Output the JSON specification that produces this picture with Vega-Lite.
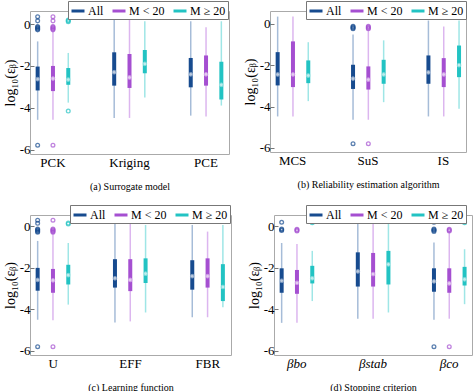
{
  "$schema": "https://vega.github.io/schema/vega-lite/v6.json",
  "padding": {"left": 2, "top": 0, "right": 0, "bottom": 0},
  "background": "white",
  "config": {
    "font": "Liberation Serif",
    "view": {"stroke": "#aaa", "strokeWidth": 1},
    "axisY": {"grid": false, "domain": false, "tickSize": -4, "tickColor": "#777", "labelPadding": 4, "labelFont": "Liberation Serif", "labelFontSize": 13, "labelColor": "black", "titleFont": "Liberation Serif", "titleFontSize": 14, "titleFontWeight": "normal", "titleColor": "black", "titlePadding": 2},
    "axisX": {"grid": false, "domain": false, "ticks": false, "labelAngle": 0, "labelFont": "Liberation Serif", "labelFontSize": 13, "labelColor": "black", "labelPadding": 2, "titleFont": "Liberation Serif", "titleFontSize": 10, "titleFontWeight": "normal", "titleColor": "black", "titlePadding": 12},
    "legend": {"orient": "none", "direction": "horizontal", "symbolType": "stroke", "symbolStrokeWidth": 3, "symbolSize": 169, "labelFont": "Liberation Serif", "labelFontSize": 12, "labelFontWeight": "normal", "labelColor": "black", "strokeColor": "#777", "fillColor": "white", "padding": 2, "columnPadding": 2, "labelOffset": 2}
  },
  "datasets": {
    "boxes": [
      {"panel": "a", "cat": "PCK", "grp": "All", "lo": -4.57, "q1": -3.17, "med": -2.63, "q3": -2.03, "hi": -0.83},
      {"panel": "a", "cat": "PCK", "grp": "M < 20", "lo": -4.57, "q1": -3.2, "med": -2.6, "q3": -2.0, "hi": -0.25},
      {"panel": "a", "cat": "PCK", "grp": "M ≥ 20", "lo": -3.75, "q1": -2.9, "med": -2.65, "q3": -2.1, "hi": -1.38},
      {"panel": "a", "cat": "Kriging", "grp": "All", "lo": -4.48, "q1": -2.94, "med": -2.3, "q3": -1.35, "hi": 0.48},
      {"panel": "a", "cat": "Kriging", "grp": "M < 20", "lo": -4.48, "q1": -3.05, "med": -2.55, "q3": -1.43, "hi": 0.3},
      {"panel": "a", "cat": "Kriging", "grp": "M ≥ 20", "lo": -3.5, "q1": -2.35, "med": -1.9, "q3": -1.24, "hi": 0.13},
      {"panel": "a", "cat": "PCE", "grp": "All", "lo": -4.37, "q1": -3.02, "med": -2.4, "q3": -1.62, "hi": 0.13},
      {"panel": "a", "cat": "PCE", "grp": "M < 20", "lo": -4.41, "q1": -2.94, "med": -2.4, "q3": -1.5, "hi": -0.16},
      {"panel": "a", "cat": "PCE", "grp": "M ≥ 20", "lo": -3.89, "q1": -3.6, "med": -2.9, "q3": -1.8, "hi": 0.13},
      {"panel": "b", "cat": "MCS", "grp": "All", "lo": -4.48, "q1": -2.98, "med": -2.45, "q3": -1.37, "hi": 0.35},
      {"panel": "b", "cat": "MCS", "grp": "M < 20", "lo": -4.48, "q1": -3.06, "med": -2.45, "q3": -0.85, "hi": 0.35},
      {"panel": "b", "cat": "MCS", "grp": "M ≥ 20", "lo": -3.74, "q1": -2.87, "med": -2.5, "q3": -1.77, "hi": -0.89},
      {"panel": "b", "cat": "SuS", "grp": "All", "lo": -4.64, "q1": -3.15, "med": -2.65, "q3": -1.98, "hi": -0.52},
      {"panel": "b", "cat": "SuS", "grp": "M < 20", "lo": -4.64, "q1": -3.18, "med": -2.7, "q3": -2.06, "hi": -0.32},
      {"panel": "b", "cat": "SuS", "grp": "M ≥ 20", "lo": -3.79, "q1": -2.9, "med": -2.45, "q3": -1.74, "hi": -0.8},
      {"panel": "b", "cat": "IS", "grp": "All", "lo": -4.48, "q1": -2.9, "med": -2.35, "q3": -1.53, "hi": 0.16},
      {"panel": "b", "cat": "IS", "grp": "M < 20", "lo": -4.48, "q1": -3.06, "med": -2.45, "q3": -1.66, "hi": -0.13},
      {"panel": "b", "cat": "IS", "grp": "M ≥ 20", "lo": -4.11, "q1": -2.58, "med": -2.0, "q3": -1.05, "hi": 0.16},
      {"panel": "c", "cat": "U", "grp": "All", "lo": -4.5, "q1": -3.1, "med": -2.58, "q3": -2.0, "hi": -0.7},
      {"panel": "c", "cat": "U", "grp": "M < 20", "lo": -4.53, "q1": -3.2, "med": -2.6, "q3": -2.05, "hi": -0.25},
      {"panel": "c", "cat": "U", "grp": "M ≥ 20", "lo": -3.77, "q1": -2.8, "med": -2.35, "q3": -1.85, "hi": -0.8},
      {"panel": "c", "cat": "EFF", "grp": "All", "lo": -4.63, "q1": -2.95, "med": -2.5, "q3": -1.58, "hi": 0.45},
      {"panel": "c", "cat": "EFF", "grp": "M < 20", "lo": -4.58, "q1": -3.12, "med": -2.58, "q3": -1.58, "hi": 0.45},
      {"panel": "c", "cat": "EFF", "grp": "M ≥ 20", "lo": -4.15, "q1": -2.73, "med": -2.28, "q3": -1.54, "hi": 0.07},
      {"panel": "c", "cat": "FBR", "grp": "All", "lo": -4.38, "q1": -3.05, "med": -2.4, "q3": -1.63, "hi": 0.07},
      {"panel": "c", "cat": "FBR", "grp": "M < 20", "lo": -4.38, "q1": -2.95, "med": -2.4, "q3": -1.54, "hi": -0.25},
      {"panel": "c", "cat": "FBR", "grp": "M ≥ 20", "lo": -3.9, "q1": -3.6, "med": -2.92, "q3": -1.82, "hi": 0.07},
      {"panel": "d", "cat": "βbo", "grp": "All", "lo": -4.65, "q1": -3.2, "med": -2.62, "q3": -2.02, "hi": -0.8},
      {"panel": "d", "cat": "βbo", "grp": "M < 20", "lo": -4.65, "q1": -3.25, "med": -2.72, "q3": -2.1, "hi": -0.85},
      {"panel": "d", "cat": "βbo", "grp": "M ≥ 20", "lo": -3.6, "q1": -2.75, "med": -2.5, "q3": -1.9, "hi": -1.18},
      {"panel": "d", "cat": "βstab", "grp": "All", "lo": -4.45, "q1": -2.9, "med": -2.17, "q3": -1.25, "hi": 0.5},
      {"panel": "d", "cat": "βstab", "grp": "M < 20", "lo": -4.45, "q1": -2.9, "med": -2.3, "q3": -1.28, "hi": 0.5},
      {"panel": "d", "cat": "βstab", "grp": "M ≥ 20", "lo": -4.15, "q1": -2.8, "med": -1.83, "q3": -1.18, "hi": 0.2},
      {"panel": "d", "cat": "βco", "grp": "All", "lo": -4.5, "q1": -3.15, "med": -2.65, "q3": -2.02, "hi": -0.78},
      {"panel": "d", "cat": "βco", "grp": "M < 20", "lo": -4.45, "q1": -3.2, "med": -2.75, "q3": -2.02, "hi": -0.2},
      {"panel": "d", "cat": "βco", "grp": "M ≥ 20", "lo": -3.75, "q1": -2.85, "med": -2.55, "q3": -1.95, "hi": -1.1}
    ],
    "outliers": [
      {"panel": "a", "cat": "PCK", "grp": "All", "v": 0.35}, {"panel": "a", "cat": "PCK", "grp": "All", "v": 0.15},
      {"panel": "a", "cat": "PCK", "grp": "All", "v": -0.12}, {"panel": "a", "cat": "PCK", "grp": "All", "v": -0.16}, {"panel": "a", "cat": "PCK", "grp": "All", "v": -0.2}, {"panel": "a", "cat": "PCK", "grp": "All", "v": -0.24}, {"panel": "a", "cat": "PCK", "grp": "All", "v": -0.28},
      {"panel": "a", "cat": "PCK", "grp": "All", "v": -5.78},
      {"panel": "a", "cat": "PCK", "grp": "M < 20", "v": 0.35}, {"panel": "a", "cat": "PCK", "grp": "M < 20", "v": 0.15},
      {"panel": "a", "cat": "PCK", "grp": "M < 20", "v": -0.12}, {"panel": "a", "cat": "PCK", "grp": "M < 20", "v": -0.16}, {"panel": "a", "cat": "PCK", "grp": "M < 20", "v": -0.2}, {"panel": "a", "cat": "PCK", "grp": "M < 20", "v": -0.24}, {"panel": "a", "cat": "PCK", "grp": "M < 20", "v": -0.28},
      {"panel": "a", "cat": "PCK", "grp": "M < 20", "v": -5.78},
      {"panel": "a", "cat": "PCK", "grp": "M ≥ 20", "v": 0.11}, {"panel": "a", "cat": "PCK", "grp": "M ≥ 20", "v": 0.15}, {"panel": "a", "cat": "PCK", "grp": "M ≥ 20", "v": 0.19},
      {"panel": "a", "cat": "PCK", "grp": "M ≥ 20", "v": -4.15},
      {"panel": "b", "cat": "SuS", "grp": "All", "v": 0.33},
      {"panel": "b", "cat": "SuS", "grp": "All", "v": -0.12}, {"panel": "b", "cat": "SuS", "grp": "All", "v": -0.16}, {"panel": "b", "cat": "SuS", "grp": "All", "v": -0.2}, {"panel": "b", "cat": "SuS", "grp": "All", "v": -0.24},
      {"panel": "b", "cat": "SuS", "grp": "All", "v": -5.8},
      {"panel": "b", "cat": "SuS", "grp": "M < 20", "v": 0.33},
      {"panel": "b", "cat": "SuS", "grp": "M < 20", "v": -0.12}, {"panel": "b", "cat": "SuS", "grp": "M < 20", "v": -0.16}, {"panel": "b", "cat": "SuS", "grp": "M < 20", "v": -0.2}, {"panel": "b", "cat": "SuS", "grp": "M < 20", "v": -0.24},
      {"panel": "b", "cat": "SuS", "grp": "M < 20", "v": -5.8},
      {"panel": "c", "cat": "U", "grp": "All", "v": 0.3}, {"panel": "c", "cat": "U", "grp": "All", "v": 0.15},
      {"panel": "c", "cat": "U", "grp": "All", "v": -0.12}, {"panel": "c", "cat": "U", "grp": "All", "v": -0.16}, {"panel": "c", "cat": "U", "grp": "All", "v": -0.2}, {"panel": "c", "cat": "U", "grp": "All", "v": -0.24}, {"panel": "c", "cat": "U", "grp": "All", "v": -0.28},
      {"panel": "c", "cat": "U", "grp": "All", "v": -5.8},
      {"panel": "c", "cat": "U", "grp": "M < 20", "v": 0.3},
      {"panel": "c", "cat": "U", "grp": "M < 20", "v": -0.12}, {"panel": "c", "cat": "U", "grp": "M < 20", "v": -0.16}, {"panel": "c", "cat": "U", "grp": "M < 20", "v": -0.2}, {"panel": "c", "cat": "U", "grp": "M < 20", "v": -0.24}, {"panel": "c", "cat": "U", "grp": "M < 20", "v": -0.28},
      {"panel": "c", "cat": "U", "grp": "M < 20", "v": -5.8},
      {"panel": "c", "cat": "U", "grp": "M ≥ 20", "v": 0.12}, {"panel": "c", "cat": "U", "grp": "M ≥ 20", "v": 0.16},
      {"panel": "d", "cat": "βbo", "grp": "All", "v": 0.2},
      {"panel": "d", "cat": "βbo", "grp": "All", "v": -0.12}, {"panel": "d", "cat": "βbo", "grp": "All", "v": -0.16}, {"panel": "d", "cat": "βbo", "grp": "All", "v": -0.2},
      {"panel": "d", "cat": "βbo", "grp": "M < 20", "v": -0.14}, {"panel": "d", "cat": "βbo", "grp": "M < 20", "v": -0.18}, {"panel": "d", "cat": "βbo", "grp": "M < 20", "v": -0.22},
      {"panel": "d", "cat": "βbo", "grp": "M ≥ 20", "v": 0.18}, {"panel": "d", "cat": "βbo", "grp": "M ≥ 20", "v": 0.22},
      {"panel": "d", "cat": "βco", "grp": "All", "v": 0.2},
      {"panel": "d", "cat": "βco", "grp": "All", "v": -0.12}, {"panel": "d", "cat": "βco", "grp": "All", "v": -0.16}, {"panel": "d", "cat": "βco", "grp": "All", "v": -0.2}, {"panel": "d", "cat": "βco", "grp": "All", "v": -0.24},
      {"panel": "d", "cat": "βco", "grp": "All", "v": -5.8},
      {"panel": "d", "cat": "βco", "grp": "M < 20", "v": -0.14}, {"panel": "d", "cat": "βco", "grp": "M < 20", "v": -0.18}, {"panel": "d", "cat": "βco", "grp": "M < 20", "v": -0.22},
      {"panel": "d", "cat": "βco", "grp": "M < 20", "v": -5.8},
      {"panel": "d", "cat": "βco", "grp": "M ≥ 20", "v": 0.18}, {"panel": "d", "cat": "βco", "grp": "M ≥ 20", "v": 0.22}
    ]
  },
  "spacing": 12,
  "vconcat": [
    {
      "spacing": 12,
      "hconcat": [
        {
          "width": 199, "height": 143,
          "layer": [
            {"data": {"name": "boxes"}, "transform": [{"filter": "datum.panel == 'a'"}],
             "mark": {"type": "rule", "strokeWidth": 1.5},
             "encoding": {
               "x": {"field": "cat", "type": "nominal", "sort": ["PCK", "Kriging", "PCE"], "scale": {"paddingInner": 0.4, "paddingOuter": 0}, "title": "(a) Surrogate model"},
               "xOffset": {"field": "grp", "type": "nominal", "sort": ["All", "M < 20", "M ≥ 20"]},
               "y": {"field": "lo", "type": "quantitative", "scale": {"domain": [-6.2, 0.62], "nice": false, "zero": false}, "axis": {"values": [0, -2, -4, -6], "labelExpr": "'' + datum.value"}, "title": "log₁₀(εᵦ)"},
               "y2": {"field": "hi"},
               "color": {"field": "grp", "type": "nominal", "scale": {"domain": ["All", "M < 20", "M ≥ 20"], "range": ["#a6bcd8", "#dcb6ef", "#9fe6e6"]}, "legend": null}
             }},
            {"data": {"name": "boxes"}, "transform": [{"filter": "datum.panel == 'a'"}],
             "mark": {"type": "rule", "strokeWidth": 4, "strokeCap": "butt"},
             "encoding": {
               "x": {"field": "cat", "type": "nominal", "sort": ["PCK", "Kriging", "PCE"]},
               "xOffset": {"field": "grp", "type": "nominal", "sort": ["All", "M < 20", "M ≥ 20"]},
               "y": {"field": "q1", "type": "quantitative"},
               "y2": {"field": "q3"},
               "color": {"field": "grp", "type": "nominal", "scale": {"domain": ["All", "M < 20", "M ≥ 20"], "range": ["#174b8f", "#a54fd1", "#22c3c3"]}, "legend": {"title": null, "legendX": 38, "legendY": -10}}
             }},
            {"data": {"name": "outliers"}, "transform": [{"filter": "datum.panel == 'a'"}],
             "mark": {"type": "point", "filled": false, "size": 14, "strokeWidth": 1.3},
             "encoding": {
               "x": {"field": "cat", "type": "nominal", "sort": ["PCK", "Kriging", "PCE"]},
               "xOffset": {"field": "grp", "type": "nominal", "sort": ["All", "M < 20", "M ≥ 20"]},
               "y": {"field": "v", "type": "quantitative"},
               "color": {"field": "grp", "type": "nominal", "scale": {"domain": ["All", "M < 20", "M ≥ 20"], "range": ["#174b8f", "#a54fd1", "#22c3c3"]}, "legend": null}
             }},
            {"mark": {"type": "rule", "strokeDash": [2, 2], "strokeWidth": 2, "color": "black"},
             "encoding": {"y": {"datum": -2.55, "type": "quantitative"}}},
            {"data": {"name": "boxes"}, "transform": [{"filter": "datum.panel == 'a'"}],
             "mark": {"type": "point", "filled": false, "fill": "white", "size": 14, "strokeWidth": 1},
             "encoding": {
               "x": {"field": "cat", "type": "nominal", "sort": ["PCK", "Kriging", "PCE"]},
               "xOffset": {"field": "grp", "type": "nominal", "sort": ["All", "M < 20", "M ≥ 20"]},
               "y": {"field": "med", "type": "quantitative"},
               "color": {"field": "grp", "type": "nominal", "scale": {"domain": ["All", "M < 20", "M ≥ 20"], "range": ["#a6bcd8", "#dcb6ef", "#9fe6e6"]}, "legend": null}
             }}
          ],
          "resolve": {"scale": {"color": "independent"}}
        },
        {
          "width": 196, "height": 141,
          "layer": [
            {"data": {"name": "boxes"}, "transform": [{"filter": "datum.panel == 'b'"}],
             "mark": {"type": "rule", "strokeWidth": 1.5},
             "encoding": {
               "x": {"field": "cat", "type": "nominal", "sort": ["MCS", "SuS", "IS"], "scale": {"paddingInner": 0.4, "paddingOuter": 0}, "title": "(b) Reliability estimation algorithm"},
               "xOffset": {"field": "grp", "type": "nominal", "sort": ["All", "M < 20", "M ≥ 20"]},
               "y": {"field": "lo", "type": "quantitative", "scale": {"domain": [-6.2, 0.62], "nice": false, "zero": false}, "axis": {"values": [0, -2, -4, -6], "labelExpr": "'' + datum.value"}, "title": "log₁₀(εᵦ)"},
               "y2": {"field": "hi"},
               "color": {"field": "grp", "type": "nominal", "scale": {"domain": ["All", "M < 20", "M ≥ 20"], "range": ["#a6bcd8", "#dcb6ef", "#9fe6e6"]}, "legend": null}
             }},
            {"data": {"name": "boxes"}, "transform": [{"filter": "datum.panel == 'b'"}],
             "mark": {"type": "rule", "strokeWidth": 4, "strokeCap": "butt"},
             "encoding": {
               "x": {"field": "cat", "type": "nominal", "sort": ["MCS", "SuS", "IS"]},
               "xOffset": {"field": "grp", "type": "nominal", "sort": ["All", "M < 20", "M ≥ 20"]},
               "y": {"field": "q1", "type": "quantitative"},
               "y2": {"field": "q3"},
               "color": {"field": "grp", "type": "nominal", "scale": {"domain": ["All", "M < 20", "M ≥ 20"], "range": ["#174b8f", "#a54fd1", "#22c3c3"]}, "legend": {"title": null, "legendX": 36, "legendY": -10}}
             }},
            {"data": {"name": "outliers"}, "transform": [{"filter": "datum.panel == 'b'"}],
             "mark": {"type": "point", "filled": false, "size": 14, "strokeWidth": 1.3},
             "encoding": {
               "x": {"field": "cat", "type": "nominal", "sort": ["MCS", "SuS", "IS"]},
               "xOffset": {"field": "grp", "type": "nominal", "sort": ["All", "M < 20", "M ≥ 20"]},
               "y": {"field": "v", "type": "quantitative"},
               "color": {"field": "grp", "type": "nominal", "scale": {"domain": ["All", "M < 20", "M ≥ 20"], "range": ["#174b8f", "#a54fd1", "#22c3c3"]}, "legend": null}
             }},
            {"mark": {"type": "rule", "strokeDash": [2, 2], "strokeWidth": 2, "color": "black"},
             "encoding": {"y": {"datum": -2.5, "type": "quantitative"}}},
            {"data": {"name": "boxes"}, "transform": [{"filter": "datum.panel == 'b'"}],
             "mark": {"type": "point", "filled": false, "fill": "white", "size": 14, "strokeWidth": 1},
             "encoding": {
               "x": {"field": "cat", "type": "nominal", "sort": ["MCS", "SuS", "IS"]},
               "xOffset": {"field": "grp", "type": "nominal", "sort": ["All", "M < 20", "M ≥ 20"]},
               "y": {"field": "med", "type": "quantitative"},
               "color": {"field": "grp", "type": "nominal", "scale": {"domain": ["All", "M < 20", "M ≥ 20"], "range": ["#a6bcd8", "#dcb6ef", "#9fe6e6"]}, "legend": null}
             }}
          ],
          "resolve": {"scale": {"color": "independent"}}
        }
      ]
    },
    {
      "spacing": 14,
      "hconcat": [
        {
          "width": 201, "height": 140,
          "layer": [
            {"data": {"name": "boxes"}, "transform": [{"filter": "datum.panel == 'c'"}],
             "mark": {"type": "rule", "strokeWidth": 1.5},
             "encoding": {
               "x": {"field": "cat", "type": "nominal", "sort": ["U", "EFF", "FBR"], "scale": {"paddingInner": 0.4, "paddingOuter": 0}, "title": "(c) Learning function"},
               "xOffset": {"field": "grp", "type": "nominal", "sort": ["All", "M < 20", "M ≥ 20"]},
               "y": {"field": "lo", "type": "quantitative", "scale": {"domain": [-6.2, 0.55], "nice": false, "zero": false}, "axis": {"values": [0, -2, -4, -6], "labelExpr": "'' + datum.value"}, "title": "log₁₀(εᵦ)"},
               "y2": {"field": "hi"},
               "color": {"field": "grp", "type": "nominal", "scale": {"domain": ["All", "M < 20", "M ≥ 20"], "range": ["#a6bcd8", "#dcb6ef", "#9fe6e6"]}, "legend": null}
             }},
            {"data": {"name": "boxes"}, "transform": [{"filter": "datum.panel == 'c'"}],
             "mark": {"type": "rule", "strokeWidth": 4, "strokeCap": "butt"},
             "encoding": {
               "x": {"field": "cat", "type": "nominal", "sort": ["U", "EFF", "FBR"]},
               "xOffset": {"field": "grp", "type": "nominal", "sort": ["All", "M < 20", "M ≥ 20"]},
               "y": {"field": "q1", "type": "quantitative"},
               "y2": {"field": "q3"},
               "color": {"field": "grp", "type": "nominal", "scale": {"domain": ["All", "M < 20", "M ≥ 20"], "range": ["#174b8f", "#a54fd1", "#22c3c3"]}, "legend": {"title": null, "legendX": 40, "legendY": -10}}
             }},
            {"data": {"name": "outliers"}, "transform": [{"filter": "datum.panel == 'c'"}],
             "mark": {"type": "point", "filled": false, "size": 14, "strokeWidth": 1.3},
             "encoding": {
               "x": {"field": "cat", "type": "nominal", "sort": ["U", "EFF", "FBR"]},
               "xOffset": {"field": "grp", "type": "nominal", "sort": ["All", "M < 20", "M ≥ 20"]},
               "y": {"field": "v", "type": "quantitative"},
               "color": {"field": "grp", "type": "nominal", "scale": {"domain": ["All", "M < 20", "M ≥ 20"], "range": ["#174b8f", "#a54fd1", "#22c3c3"]}, "legend": null}
             }},
            {"mark": {"type": "rule", "strokeDash": [2, 2], "strokeWidth": 2, "color": "black"},
             "encoding": {"y": {"datum": -2.55, "type": "quantitative"}}},
            {"data": {"name": "boxes"}, "transform": [{"filter": "datum.panel == 'c'"}],
             "mark": {"type": "point", "filled": false, "fill": "white", "size": 14, "strokeWidth": 1},
             "encoding": {
               "x": {"field": "cat", "type": "nominal", "sort": ["U", "EFF", "FBR"]},
               "xOffset": {"field": "grp", "type": "nominal", "sort": ["All", "M < 20", "M ≥ 20"]},
               "y": {"field": "med", "type": "quantitative"},
               "color": {"field": "grp", "type": "nominal", "scale": {"domain": ["All", "M < 20", "M ≥ 20"], "range": ["#a6bcd8", "#dcb6ef", "#9fe6e6"]}, "legend": null}
             }}
          ],
          "resolve": {"scale": {"color": "independent"}}
        },
        {
          "width": 198, "height": 140,
          "layer": [
            {"data": {"name": "boxes"}, "transform": [{"filter": "datum.panel == 'd'"}],
             "mark": {"type": "rule", "strokeWidth": 1.5},
             "encoding": {
               "x": {"field": "cat", "type": "nominal", "sort": ["βbo", "βstab", "βco"], "scale": {"paddingInner": 0.4, "paddingOuter": 0}, "axis": {"labelFontStyle": "italic"}, "title": "(d) Stopping criterion"},
               "xOffset": {"field": "grp", "type": "nominal", "sort": ["All", "M < 20", "M ≥ 20"]},
               "y": {"field": "lo", "type": "quantitative", "scale": {"domain": [-6.2, 0.55], "nice": false, "zero": false}, "axis": {"values": [0, -2, -4, -6], "labelExpr": "'' + datum.value"}, "title": "log₁₀(εᵦ)"},
               "y2": {"field": "hi"},
               "color": {"field": "grp", "type": "nominal", "scale": {"domain": ["All", "M < 20", "M ≥ 20"], "range": ["#a6bcd8", "#dcb6ef", "#9fe6e6"]}, "legend": null}
             }},
            {"data": {"name": "boxes"}, "transform": [{"filter": "datum.panel == 'd'"}],
             "mark": {"type": "rule", "strokeWidth": 4, "strokeCap": "butt"},
             "encoding": {
               "x": {"field": "cat", "type": "nominal", "sort": ["βbo", "βstab", "βco"]},
               "xOffset": {"field": "grp", "type": "nominal", "sort": ["All", "M < 20", "M ≥ 20"]},
               "y": {"field": "q1", "type": "quantitative"},
               "y2": {"field": "q3"},
               "color": {"field": "grp", "type": "nominal", "scale": {"domain": ["All", "M < 20", "M ≥ 20"], "range": ["#174b8f", "#a54fd1", "#22c3c3"]}, "legend": {"title": null, "legendX": 32, "legendY": -10}}
             }},
            {"data": {"name": "outliers"}, "transform": [{"filter": "datum.panel == 'd'"}],
             "mark": {"type": "point", "filled": false, "size": 14, "strokeWidth": 1.3},
             "encoding": {
               "x": {"field": "cat", "type": "nominal", "sort": ["βbo", "βstab", "βco"]},
               "xOffset": {"field": "grp", "type": "nominal", "sort": ["All", "M < 20", "M ≥ 20"]},
               "y": {"field": "v", "type": "quantitative"},
               "color": {"field": "grp", "type": "nominal", "scale": {"domain": ["All", "M < 20", "M ≥ 20"], "range": ["#174b8f", "#a54fd1", "#22c3c3"]}, "legend": null}
             }},
            {"mark": {"type": "rule", "strokeDash": [2, 2], "strokeWidth": 2, "color": "black"},
             "encoding": {"y": {"datum": -2.55, "type": "quantitative"}}},
            {"data": {"name": "boxes"}, "transform": [{"filter": "datum.panel == 'd'"}],
             "mark": {"type": "point", "filled": false, "fill": "white", "size": 14, "strokeWidth": 1},
             "encoding": {
               "x": {"field": "cat", "type": "nominal", "sort": ["βbo", "βstab", "βco"]},
               "xOffset": {"field": "grp", "type": "nominal", "sort": ["All", "M < 20", "M ≥ 20"]},
               "y": {"field": "med", "type": "quantitative"},
               "color": {"field": "grp", "type": "nominal", "scale": {"domain": ["All", "M < 20", "M ≥ 20"], "range": ["#a6bcd8", "#dcb6ef", "#9fe6e6"]}, "legend": null}
             }}
          ],
          "resolve": {"scale": {"color": "independent"}}
        }
      ]
    }
  ]
}
